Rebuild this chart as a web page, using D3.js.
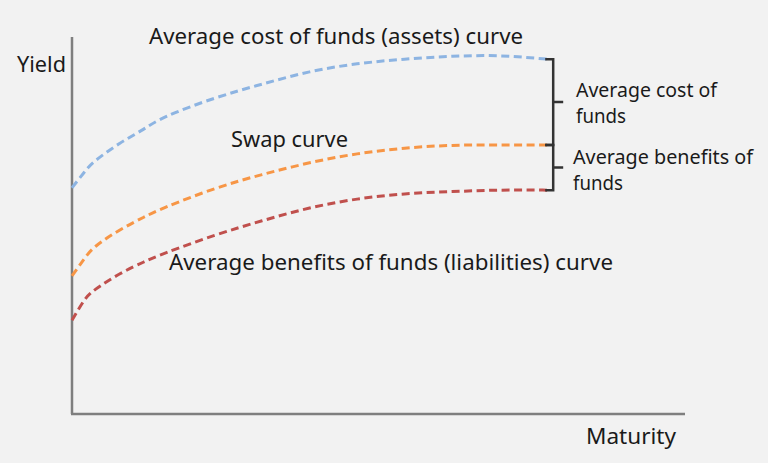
<!DOCTYPE html>
<html>
<head>
<meta charset="utf-8">
<script src="https://cdn.jsdelivr.net/npm/d3@7"></script>
<style>
  html, body { margin: 0; padding: 0; background: #f2f2f2; }
  svg { display: block; }
  text { font-family: "Noto Sans", "Open Sans", sans-serif; font-size: 22px; fill: #1a1a1a; }
</style>
</head>
<body>
<div id="chart"></div>
<script>
// maturity points (years) and yields
const maturity = [0, 0.25, 0.5, 1, 1.5, 2, 3, 4, 5, 6, 7, 8, 9, 10];
const costOfFunds = [4.80, 5.12, 5.38, 5.74, 6.04, 6.32, 6.70, 7.00, 7.26, 7.43, 7.53, 7.59, 7.60, 7.53];
const swapCurve = [2.93, 3.28, 3.56, 3.90, 4.17, 4.40, 4.78, 5.08, 5.33, 5.52, 5.64, 5.70, 5.71, 5.71];
const benefitsOfFunds = [1.99, 2.40, 2.65, 2.97, 3.22, 3.43, 3.79, 4.10, 4.37, 4.56, 4.67, 4.72, 4.75, 4.75];

const seriesNames = ['cost', 'swap', 'benefits'];
const seriesColors = ['#8db4e2', '#f79646', '#c0504d'];

const width = 768, height = 463;

const svg = d3.select('#chart')
  .append('svg')
  .attr('width', width)
  .attr('height', height);

svg.append('rect').attr('width', width).attr('height', height).attr('fill', '#f2f2f2');

const x = d3.scaleLinear().domain([0, 12.9]).range([72, 685]);
const y = d3.scaleLinear().domain([0, 8]).range([414, 37]);

// axes (plain lines, no ticks)
svg.append('line')
  .attr('x1', x(0)).attr('x2', x(0))
  .attr('y1', y(8)).attr('y2', y(0))
  .style('stroke', '#7f7f7f').style('stroke-width', '2.5px');
svg.append('line')
  .attr('x1', x(0) - 1).attr('x2', x(12.9))
  .attr('y1', y(0)).attr('y2', y(0))
  .style('stroke', '#7f7f7f').style('stroke-width', '2.5px');

// curves
const line = d3.line()
  .x(d => x(d[0]))
  .y(d => y(d[1]))
  .curve(d3.curveNatural);

[costOfFunds, swapCurve, benefitsOfFunds].forEach((vals, i) => {
  svg.append('path')
    .attr('class', 'curve ' + seriesNames[i])
    .attr('d', line(maturity.map((m, j) => [m, vals[j]])))
    .style('fill', 'none')
    .style('stroke', seriesColors[i])
    .style('stroke-width', '3px')
    .style('stroke-dasharray', '8,4.5');
});

// braces at the right end of the curves
const last = maturity.length - 1;
const bx = x(maturity[last]) + 6;
const yTop = y(costOfFunds[last]);
const yMid = y(swapCurve[last]);
const yBot = y(benefitsOfFunds[last]);
const brace = (y0, y1) =>
  `M${bx - 8},${y0}H${bx}V${y1}H${bx - 8}M${bx},${(y0 + y1) / 2}H${bx + 10}`;
[[yTop, yMid], [yMid, yBot]].forEach(([a, b]) => {
  svg.append('path')
    .attr('d', brace(a, b))
    .style('fill', 'none')
    .style('stroke', '#333')
    .style('stroke-width', '2.5px');
});

// labels
const labels = [
  { t: 'Yield', x: 17, y: 72, w: 49, s: 22 },
  { t: 'Maturity', x: 586, y: 444, w: 90, s: 22 },
  { t: 'Average cost of funds (assets) curve', x: 149, y: 44, w: 374, s: 22 },
  { t: 'Swap curve', x: 231, y: 147, w: 117, s: 22 },
  { t: 'Average benefits of funds (liabilities) curve', x: 169, y: 270, w: 444, s: 22 },
  { t: 'Average cost of', x: 576, y: 97, w: 141, s: 20 },
  { t: 'funds', x: 576, y: 123, w: 50, s: 20 },
  { t: 'Average benefits of', x: 573, y: 164, w: 180, s: 20 },
  { t: 'funds', x: 573, y: 190, w: 50, s: 20 }
];
svg.selectAll('.label')
  .data(labels)
  .enter()
  .append('text')
  .attr('class', 'label')
  .attr('x', d => d.x)
  .attr('y', d => d.y)
  .attr('textLength', d => d.w)
  .attr('lengthAdjust', 'spacingAndGlyphs')
  .style('font-size', d => d.s + 'px')
  .text(d => d.t);
</script>
</body>
</html>
